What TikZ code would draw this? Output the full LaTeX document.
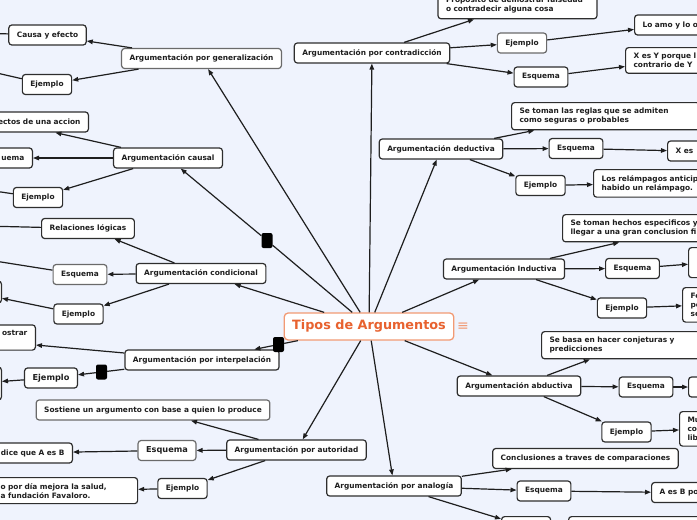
\documentclass[tikz,border=0pt]{standalone}
\usepackage{fontspec}
\setmainfont{DejaVu Sans}
\usepackage{tikz}
\usetikzlibrary{arrows.meta}
\definecolor{Canvas}{HTML}{EFF3FD}
\definecolor{Ink}{HTML}{1E1E1E}
\definecolor{BoxLine}{HTML}{2E2E2E}
\definecolor{SoftLine}{HTML}{6A6A6A}
\definecolor{Orange}{HTML}{E8622F}
\definecolor{LightOrange}{HTML}{F29A74}

\begin{document}
\begin{tikzpicture}[
  x=1pt, y=-1pt,
  box/.style={rectangle, rounded corners=3pt, draw=BoxLine, line width=1.2pt, fill=white, text=Ink, font=\fontsize{7.4}{9}\selectfont\bfseries, inner xsep=8pt, inner ysep=5.5pt, minimum height=20pt},
  soft/.style={box, draw=SoftLine},
  big/.style={box, font=\fontsize{8.2}{10}\selectfont\bfseries},
  note/.style={box, align=left},
  topic/.style={rectangle, rounded corners=4pt, draw=LightOrange, line width=1.3pt, fill=white, text=Orange, font=\fontsize{12.8}{14}\selectfont\bfseries, inner xsep=8pt, minimum height=27pt},
  knob/.style={rectangle, rounded corners=2pt, fill=black, minimum width=11pt, minimum height=15pt, inner sep=0pt},
  arrow/.style={-{Triangle[length=6pt,width=4.5pt]}, line width=1.2pt, draw=Ink},
  link/.style={line width=1.2pt, draw=Ink}
]
\useasboundingbox (0,0) rectangle (697,520);
\clip (0,0) rectangle (697,520);
\fill[Canvas] (0,0) rectangle (697,520);

% central topic
\node[topic] (tipos) at (369,326.5) {Tipos de Argumentos};
\node[text=LightOrange, font=\fontsize{14}{14}\selectfont] (menu) at (463,327) {≡};

% branches
\node[soft] (gen) at (201.5,58.5) {Argumentación por generalización};
\node[box] (contra) at (372,53) {Argumentación por contradicción};
\node[box] (deduc) at (441,149) {Argumentación deductiva};
\node[box] (induc) at (504,269) {Argumentación Inductiva};
\node[box] (abduc) at (519,386) {Argumentación abductiva};
\node[box] (analog) at (394,486) {Argumentación por analogía};
\node[box] (autor) at (296.5,450) {Argumentación por autoridad};
\node[box] (interp) at (202,360) {Argumentación por interpelación};
\node[box] (condic) at (201,273.5) {Argumentación condicional};
\node[box] (causal) at (168,158) {Argumentación causal};

\node[knob] (kcausal) at (267,240.5) {};
\node[knob] (kinterp) at (278.5,344.5) {};
\node[knob] (kejemplo) at (101.5,372) {};

% generalizacion
\node[box] (gencausa) at (47.5,35) {Causa y efecto};
\node[box] (genej) at (47,84.5) {Ejemplo};
\coordinate (gencausaout) at (-60,32);
\coordinate (genejout) at (-60,60);

% contradiccion
\node[note, text width=143pt] (contraprop) at (517.5,5) {Propósito de demostrar falsedad\\o contradecir alguna cosa};
\node[soft] (contraej) at (522,43) {Ejemplo};
\node[box, anchor=west] (contraamo) at (634,25) {Lo amo y lo o};
\node[box] (contraesq) at (541,77) {Esquema};
\node[note, anchor=north west, text width=80pt] (contraxy) at (625,47) {X es Y porque l\\contrario de Y};

% deductiva
\node[note, anchor=north west, text width=172pt] (deducreglas) at (511,102) {Se toman las reglas que se admiten\\como seguras o probables};
\node[box] (deducesq) at (576,148.5) {Esquema};
\node[box, anchor=west] (deducxes) at (667,151) {X es};
\node[box] (deducej) at (540.5,185.5) {Ejemplo};
\node[note, anchor=north west, text width=120pt] (deducrayo) at (593,169) {Los relámpagos anticip\\habido un relámpago.};

% inductiva
\node[note, anchor=north west, text width=220pt] (induchechos) at (562,214) {Se toman hechos especificos y\\llegar a una gran conclusion fi};
\node[box] (inducesq) at (632.5,268.5) {Esquema};
\node[box, anchor=north west, minimum width=40pt, minimum height=30pt] (inducesqout) at (688,247) {};
\node[box] (inducej) at (622,308) {Ejemplo};
\node[note, anchor=north west, text width=40pt] (inducfo) at (682,287) {Fo\\pe\\se};

% abductiva
\node[note, anchor=north west, text width=156pt] (abducconj) at (541,331) {Se basa en hacer conjeturas y\\predicciones};
\node[box] (abducesq) at (646,387) {Esquema};
\node[box, anchor=west, minimum width=40pt] (abducesqout) at (688,387) {};
\node[box] (abducej) at (626.5,432) {Ejemplo};
\node[note, anchor=north west, text width=40pt] (abducmu) at (679,411) {Mu\\co\\lib};

% analogia
\node[box] (analogcomp) at (585.5,458.5) {Conclusiones a traves de comparaciones};
\node[box] (analogesq) at (544,491) {Esquema};
\node[box, anchor=west] (analogab) at (651,492.5) {A es B po};
\node[box, anchor=north west, minimum width=49pt] (analogej) at (501,516) {};
\node[box, anchor=north west, minimum width=140pt] (analogejout) at (568,516) {};

% autoridad
\node[soft] (autorsost) at (153,410) {Sostiene un argumento con base a quien lo produce};
\node[big, draw=SoftLine] (autoresq) at (167,450.5) {Esquema};
\node[box, anchor=east, text width=100pt, align=right] (autordice) at (73,453) {dice que A es B};
\node[box] (autorej) at (182.5,488.5) {Ejemplo};
\node[note, anchor=north west, text width=129pt] (autorfav) at (-8,477) {o por día mejora la salud,\\a fundación Favaloro.};

% interpelacion
\node[box, anchor=east, text width=150pt, align=right] (interpdem) at (36,337.5) {ostrar\\\mbox{}};
\node[big] (interpej) at (51,378) {Ejemplo};
\node[box, anchor=east, minimum width=60pt, minimum height=33pt] (interpout) at (2,383.5) {};

% condicional
\node[box] (condicrel) at (88,228.5) {Relaciones lógicas};
\node[soft] (condicesq) at (80,274.5) {Esquema};
\node[box] (condicej) at (78.5,314) {Ejemplo};
\coordinate (condicrelout) at (-100,224);
\coordinate (condicesqout) at (-100,246);
\node[box, anchor=east, minimum width=60pt, minimum height=22pt] (condicejout) at (2,292) {};

% causal
\node[box, anchor=east, text width=144pt, align=right] (causalef) at (89,122) {ectos de una accion};
\node[box, anchor=east, text width=60pt, align=right] (causalesq) at (33,158) {uema};
\node[box] (causalej) at (38,197.5) {Ejemplo};
\coordinate (causalejout) at (-100,177);

% from the topic
\draw[arrow] (tipos) -- (gen);
\draw[arrow] (tipos) -- (contra);
\draw[arrow] (tipos) -- (deduc);
\draw[arrow] (tipos) -- (induc);
\draw[arrow] (tipos) -- (abduc);
\draw[arrow] (tipos) -- (analog);
\draw[arrow] (tipos) -- (autor);
\draw[link] (tipos) -- (kinterp);
\draw[arrow] (kinterp) -- (interp);
\draw[arrow] (tipos) -- (condic);
\draw[link] (tipos) -- (kcausal);
\draw[arrow] (kcausal) -- (causal);

\draw[arrow] (gen) -- (gencausa);
\draw[arrow] (gen) -- (genej);
\draw[arrow] (gencausa) -- (gencausaout);
\draw[arrow] (genej) -- (genejout);

\draw[arrow] (contra) -- (contraprop);
\draw[arrow] (contra) -- (contraej);
\draw[arrow] (contraej) -- (contraamo);
\draw[arrow] (contra) -- (contraesq);
\draw[arrow] (contraesq) -- (contraxy);

\draw[arrow] (deduc) -- (deducreglas);
\draw[arrow] (deduc) -- (deducesq);
\draw[arrow] (deducesq) -- (deducxes);
\draw[arrow] (deduc) -- (deducej);
\draw[arrow] (deducej) -- (deducrayo);

\draw[arrow] (induc) -- (induchechos);
\draw[arrow] (induc) -- (inducesq);
\draw[arrow] (inducesq) -- (inducesqout);
\draw[arrow] (induc) -- (inducej);
\draw[arrow] (inducej) -- (inducfo);

\draw[arrow] (abduc) -- (abducconj);
\draw[arrow] (abduc) -- (abducesq);
\draw[arrow] (abducesq) -- (abducesqout);
\draw[arrow] (abduc) -- (abducej);
\draw[arrow] (abducej) -- (abducmu);

\draw[arrow] (analog) -- (analogcomp);
\draw[arrow] (analog) -- (analogesq);
\draw[arrow] (analogesq) -- (analogab);
\draw[arrow] (analog) -- (analogej);

\draw[arrow] (autor) -- (autorsost);
\draw[arrow] (autor) -- (autoresq);
\draw[arrow] (autoresq) -- (autordice);
\draw[arrow] (autor) -- (autorej);
\draw[arrow] (autorej) -- (autorfav);

\draw[arrow] (interp) -- (interpdem);
\draw[link] (interp) -- (kejemplo);
\draw[arrow] (kejemplo) -- (interpej);
\draw[arrow] (interpej) -- (interpout);

\draw[arrow] (condic) -- (condicrel);
\draw[arrow] (condic) -- (condicesq);
\draw[arrow] (condic) -- (condicej);
\draw[arrow] (condicrel) -- (condicrelout);
\draw[arrow] (condicesq) -- (condicesqout);
\draw[arrow] (condicej) -- (condicejout);

\draw[arrow] (causal) -- (causalef);
\draw[arrow] (causal) -- (causalesq);
\draw[arrow] (causal) -- (causalej);
\draw[arrow] (causalej) -- (causalejout);
\end{tikzpicture}
\end{document}
